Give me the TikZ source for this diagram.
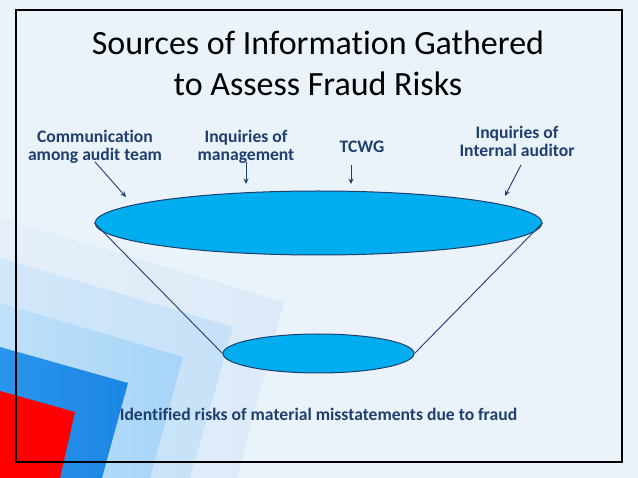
\documentclass[tikz,border=0pt]{standalone}
\usepackage{fontspec}
\setmainfont[Ligatures=NoCommon]{Carlito}
\usetikzlibrary{shapes.geometric,arrows.meta}
\definecolor{bgc}{HTML}{EAF2FA}
\definecolor{navy}{HTML}{1F3F6E}
\definecolor{cyanf}{HTML}{00AEEF}
\definecolor{bandA}{HTML}{DCEAF8}
\definecolor{bandAl}{HTML}{E4EFF9}
\definecolor{bandB}{HTML}{C6E1F8}
\definecolor{bandBl}{HTML}{D2E7F9}
\definecolor{bandC}{HTML}{A6D4F8}
\definecolor{bandCl}{HTML}{BFE0F9}
\definecolor{bandD}{HTML}{1C86E4}
\definecolor{bandDl}{HTML}{2A95EC}
\tikzset{
  lbl/.style={font=\bfseries\fontsize{17.6}{18}\selectfont,text=navy,align=center,inner sep=0pt},
  titlet/.style={font=\fontsize{34}{41}\selectfont,text=black,align=center,inner sep=0pt},
  disc/.style={ellipse,draw=navy,line width=1pt,fill=cyanf,inner sep=0pt},
  arr/.style={draw=navy,line width=0.9pt,-{Stealth[length=5.5pt,width=5pt]}},
  side/.style={draw=navy,line width=0.9pt}
}
\begin{document}
\begin{tikzpicture}[x=1pt,y=-1pt]
\useasboundingbox (0,0) rectangle (638,478);
\fill[bgc] (0,0) rectangle (638,478);
% background bands
\shade[left color=bandAl,right color=bandA] (0,218) -- (284,302) -- (237,478) -- (0,478) -- cycle;
\shade[left color=bandBl,right color=bandB] (0,258) -- (233,327) -- (190,478) -- (0,478) -- cycle;
\shade[left color=bandCl,right color=bandC] (0,303) -- (183,357) -- (150,478) -- (0,478) -- cycle;
\shade[left color=bandDl,right color=bandD] (0,347) -- (128,383) -- (102,478) -- (0,478) -- cycle;
\fill[red] (0,391) -- (75,412) -- (60,478) -- (0,478) -- cycle;
% frame
\draw[black,line width=1.2pt] (16,10) rectangle (622,462);
% title
\node[titlet] (title) at (318,63.5) {Sources of Information Gathered\\to Assess Fraud Risks};
% funnel
\node[disc,minimum width=447pt,minimum height=64pt] (big) at (318.5,223) {};
\node[disc,minimum width=191pt,minimum height=39pt] (small) at (318.5,353.5) {};
\draw[side] (big.west) -- (small.west);
\draw[side] (big.east) -- (small.east);
% labels
\node[lbl] (comm) at (95,147) {Communication\\among audit team};
\node[lbl] (mgmt) at (246,147) {Inquiries of\\management};
\node[lbl] (tcwg) at (362,147) {TCWG};
\node[lbl] (inta) at (517,141) {Inquiries of\\Internal auditor};
\node[lbl] (res) at (318.5,414) {Identified risks of material misstatements due to fraud};
% arrows
\coordinate (t1) at (126,197);
\coordinate (t2) at (246,184);
\coordinate (t3) at (351,184);
\coordinate (t4) at (505,196);
\draw[arr] ([yshift=2pt]comm.south) -- (t1);
\draw[arr] ([yshift=2pt]mgmt.south) -- (t2);
\draw[arr] (351,165) -- (t3);
\draw[arr] (521,165) -- (t4);
\end{tikzpicture}
\end{document}
